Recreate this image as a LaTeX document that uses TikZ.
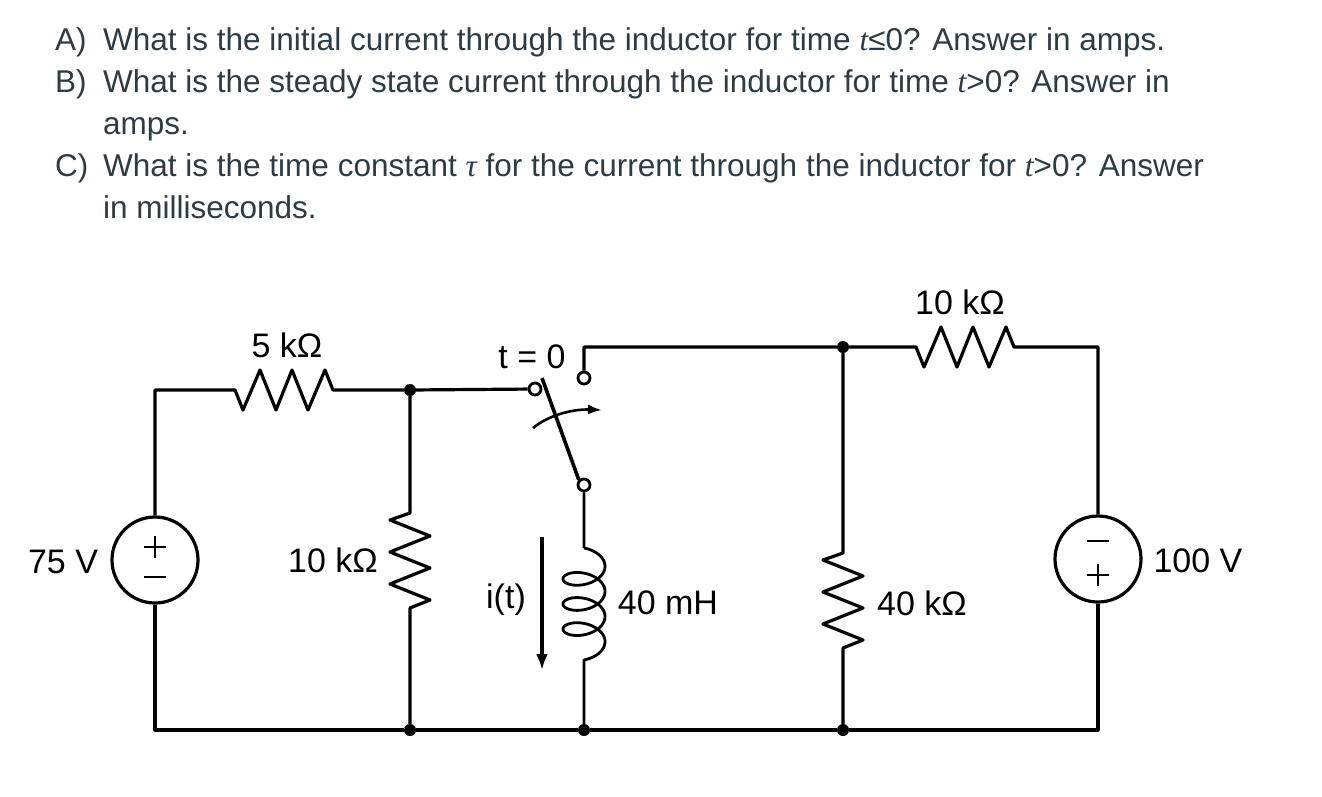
\documentclass[tikz,border=0pt]{standalone}
\usepackage{fontspec}
\setmainfont{Liberation Sans}
\newfontfamily\serif{Liberation Serif}
\usetikzlibrary{arrows.meta}
\definecolor{qtext}{HTML}{2D3B45}
\tikzset{>=latex}
\tikzset{
  wire/.style={line width=3.2pt,line join=round},
  q/.style={anchor=base west,inner sep=0pt,text=qtext,font=\fontsize{31.5}{31.5}\selectfont},
  lab/.style={inner sep=0pt,font=\fontsize{34}{34}\selectfont},
  dot/.style={circle,fill=black,inner sep=0pt,minimum size=12pt},
  term/.style={circle,draw,line width=2.8pt,fill=white,inner sep=0pt,minimum size=12pt},
  src/.style={circle,draw,line width=3.2pt,inner sep=0pt,minimum size=86pt}
}
\newcommand{\tvar}{{\serif\itshape t}}
\begin{document}
\begin{tikzpicture}[x=1pt,y=-1pt]
\useasboundingbox (0,0) rectangle (1322,796);
% questions
\node[q] (qa) at (55,50) {A)};
\node[q] (qatext) at (103,50) {What is the initial current through the inductor for time \tvar≤0? Answer in amps.};
\node[q] (qb) at (55,92) {B)};
\node[q] (qbtext) at (103,92) {What is the steady state current through the inductor for time \tvar>0? Answer in};
\node[q] (qbmore) at (103,134) {amps.};
\node[q] (qc) at (55,176) {C)};
\node[q] (qctext) at (103,176) {What is the time constant {\serif\itshape τ} for the current through the inductor for \tvar>0? Answer};
\node[q] (qcmore) at (103,218) {in milliseconds.};

% sources
\node[src] (V1) at (155,560) {};
\node[src] (V2) at (1098,559) {};
\draw[line width=2.8pt] (144,547) -- (166,547) (155,536) -- (155,558) (144,577) -- (166,577);
\draw[line width=2.8pt] (1087,541) -- (1109,541) (1087,575) -- (1109,575) (1098,564) -- (1098,586);

% corners and junctions
\coordinate (tl) at (155,390);
\coordinate (bl) at (155,730);
\coordinate (tr) at (1098,347);
\coordinate (br) at (1098,730);
\coordinate (swtop) at (584,347);
\node[dot] (n1) at (410,390) {};
\node[dot] (n2) at (410,730) {};
\node[dot] (n3) at (584,730) {};
\node[dot] (n4) at (843,347) {};
\node[dot] (n5) at (843,730) {};

% switch
\node[term] (sa) at (535,389) {};
\node[term] (sb) at (584,378) {};
\node[term] (sc) at (584,485) {};
\draw[line width=3.6pt] (sc.north west) -- (542,378);
\draw[line width=2.6pt,-{Latex[length=14pt,width=10pt]}] (533,428) .. controls (550,414) and (575,409) .. (602,410);
\node[lab] (tzero) at (532,357) {t = 0};

% wires
\draw[wire] (V1.north) -- (tl) -- (235,390) -- ++(8,20) -- ++(17,-40) -- ++(16,40) -- ++(16,-40) -- ++(16,40) -- ++(17,-40) -- ++(8,20) -- (n1) -- (sa);
\draw[wire] (V1.south) -- (bl) -- (n2) -- (n3) -- (n5) -- (br) -- (V2.south);
\draw[wire] (sb) -- (swtop) -- (n4) -- (916,347) -- ++(8,20) -- ++(17,-40) -- ++(16,40) -- ++(16,-40) -- ++(16,40) -- ++(17,-40) -- ++(8,20) -- (tr) -- (V2.north);
\draw[wire] (n1) -- (410,513) -- ++(-20,7) -- ++(40,16) -- ++(-40,16) -- ++(40,16) -- ++(-40,16) -- ++(40,16) -- ++(-20,8) -- (n2);
\draw[wire] (n4) -- (843,553) -- ++(-20,7) -- ++(40,16) -- ++(-40,16) -- ++(40,16) -- ++(-40,16) -- ++(40,16) -- ++(-20,8) -- (n5);
% inductor
\draw[wire,line width=2.8pt] (sc) -- (584,548)
  plot[domain=0:1260,samples=300,smooth] ({584+21*sin(\x)},{548+0.0698*\x+12*(1-cos(\x))})
  -- (n3);
\draw[line width=3.2pt,-{Latex[length=16pt,width=12pt]}] (542,537) -- (542,670);

% labels
\node[lab] (l5k) at (287,345) {5 kΩ};
\node[lab] (l10ka) at (333,560) {10 kΩ};
\node[lab] (l10kb) at (960,302) {10 kΩ};
\node[lab] (l40k) at (922,603) {40 kΩ};
\node[lab] (l40m) at (668,603) {40 mH};
\node[lab] (lit) at (506,600) {i(t)};
\node[lab] (l75) at (63,562) {75 V};
\node[lab] (l100) at (1198,561) {100 V};
\end{tikzpicture}
\end{document}
